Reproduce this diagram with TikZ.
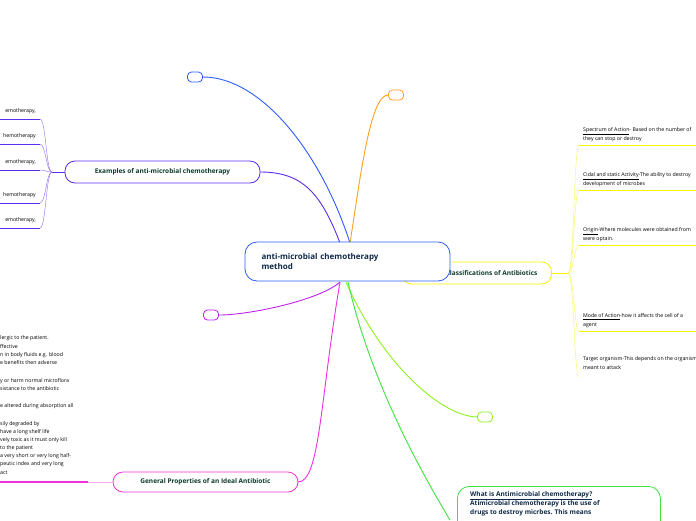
\documentclass[tikz,border=0pt]{standalone}
\usepackage{fontspec}
\setmainfont{Open Sans}
\definecolor{cblue}{HTML}{2E5BFF}
\definecolor{cpurp}{HTML}{5B2BF0}
\definecolor{cyel}{HTML}{F5F500}
\definecolor{corg}{HTML}{FFA020}
\definecolor{cmag}{HTML}{F030E0}
\definecolor{cvio}{HTML}{C020F0}
\definecolor{clgr}{HTML}{90F020}
\definecolor{cgrn}{HTML}{40E040}
\definecolor{ctxt}{HTML}{0E3B2E}
\definecolor{cctr}{HTML}{102A4A}
\begin{document}
\begin{tikzpicture}[x=1pt,y=-1pt,
  topic/.style={draw,rounded corners=10pt,line width=0.8pt,fill=white,font=\bfseries\fontsize{6.5}{8}\selectfont,text=ctxt,inner sep=0pt},
  empty/.style={draw,rounded corners=4pt,line width=0.8pt,fill=white,minimum width=15pt,minimum height=10pt,inner sep=0pt},
  leaf/.style={font=\fontsize{5.2}{7.5}\selectfont,text=black,inner sep=0pt,align=left},
  cleaf/.style={font=\fontsize{5.2}{9}\selectfont,text=black,inner sep=0pt,align=left},
  con/.style={line width=0.9pt}]
\useasboundingbox (0,0) rectangle (696,520);
% connectors from center
\coordinate (c1) at (350,243);
\draw[con,cblue] (c1) .. controls (320,150) and (260,77) .. (203,77);
\draw[con,corg] (c1) .. controls (360,180) and (370,95) .. (388,95);
\draw[con,cpurp] (340,243) .. controls (320,190) and (300,172) .. (260,172);
\draw[con,cyel] (400,262) -- (430,272);
\draw[con,cvio] (340,282) .. controls (320,300) and (250,315) .. (219,315);
\draw[con,cmag] (340,282) .. controls (320,400) and (320,482) .. (298,482);
\draw[con,clgr] (346,282) .. controls (380,360) and (440,417) .. (478,417);
\draw[con,cgrn] (348,282) .. controls (370,380) and (420,470) .. (450,520);
% classification topic (behind center)
\node[topic,draw=cyel,minimum width=150pt,minimum height=22pt,anchor=east] (cls) at (552,273) {\hspace*{30pt}Classifications of Antibiotics};
\node[draw=cblue,line width=0.8pt,rounded corners=12pt,fill=white,minimum width=205pt,minimum height=39pt,inner sep=0pt,text=cctr,font=\bfseries\fontsize{8}{10}\selectfont,align=left,text width=172pt] (ctr) at (347.5,261.5) {anti-microbial chemotherapy\\method};
% empties
\node[empty,draw=cblue] (e1) at (195,77) {};
\node[empty,draw=corg] (e2) at (396,95) {};
\node[empty,draw=cvio] (e3) at (211,315) {};
\node[empty,draw=clgr] (e4) at (485,417) {};
% examples
\node[topic,draw=cpurp,minimum width=195pt,minimum height=22pt] (ex) at (162.5,172) {Examples of anti-microbial chemotherapy};
\coordinate (exb) at (52,172);
\draw[cpurp,line width=0.6pt] (ex.west) -- (exb);
\foreach \y/\t in {119/{emotherapy,},144/{hemotherapy},170/{emotherapy,},203/{hemotherapy},228/{emotherapy,}}{
  \draw[cpurp!60,line width=0.5pt] (exb) .. controls (46,172) and (46,\y) .. (40,\y);
  \draw[cpurp,line width=1pt] (40,\y) -- (-5,\y);
  \node[leaf,anchor=south east] at (36,\y-5) {\t};
}
% general properties
\node[topic,draw=cmag,minimum width=185pt,minimum height=20pt] (gp) at (205.5,482) {General Properties of an Ideal Antibiotic};
\draw[cmag!40,line width=1pt] (gp.west) -- (88,482);
\draw[cmag,line width=1.2pt] (88,482) -- (-5,482);
\foreach \y/\t in {338/{lergic to the patient.},347/{ffective},355/{n in body fluids e.g. blood},363/{e benefits then adverse},381/{y or harm normal microflora},389/{sistance to the antibiotic},406/{e altered during absorption all},424/{sily degraded by},432/{have a long shelf life},440/{vely toxic as it must only kill},448/{to the patient},456/{a very short or very long half-},464/{peutic index and very long},473/{act}}{
  \node[leaf,anchor=west] at (0,\y) {\t};
}
% classification leaves
\coordinate (cb) at (568,273);
\draw[cyel,line width=0.6pt] (cls.east) -- (cb);
\foreach \y in {145,190,245,331,377}{
  \draw[cyel!60,line width=0.5pt] (cb) .. controls (574,273) and (574,\y) .. (579,\y);
}
\foreach \y in {145,190,245,331}{\draw[cyel,line width=1pt] (579,\y) -- (700,\y);}
\node[cleaf,anchor=south west] at (583,142) {\underline{Spectrum of Action}- Based on the number of\\they can stop or destroy};
\node[cleaf,anchor=south west] at (583,187) {\underline{Cidal and static Activity}-The ability to destroy\\development of microbes};
\node[cleaf,anchor=south west] at (583,242) {\underline{Origin}-Where molecules were obtained from\\were optain.};
\node[cleaf,anchor=south west] at (583,328) {\underline{Mode of Action}-how it affects the cell of a\\agent};
\node[cleaf,anchor=south west] at (583,370) {Target organism-This depends on the organism\\meant to attack};
% what is
\node[draw=cgrn,line width=0.8pt,rounded corners=12pt,fill=white,minimum width=203pt,minimum height=60pt,anchor=north west,inner sep=0pt] (wh) at (457,486) {};
\node[anchor=north west,inner sep=0pt,font=\bfseries\fontsize{6.5}{9}\selectfont,text=cctr,align=left] (wht) at (470,491) {\underline{What is Antimicrobial chemotherapy?}\\Atimicrobial chemotherapy is the use of\\drugs to destroy micrbes. This means};
\end{tikzpicture}
\end{document}
